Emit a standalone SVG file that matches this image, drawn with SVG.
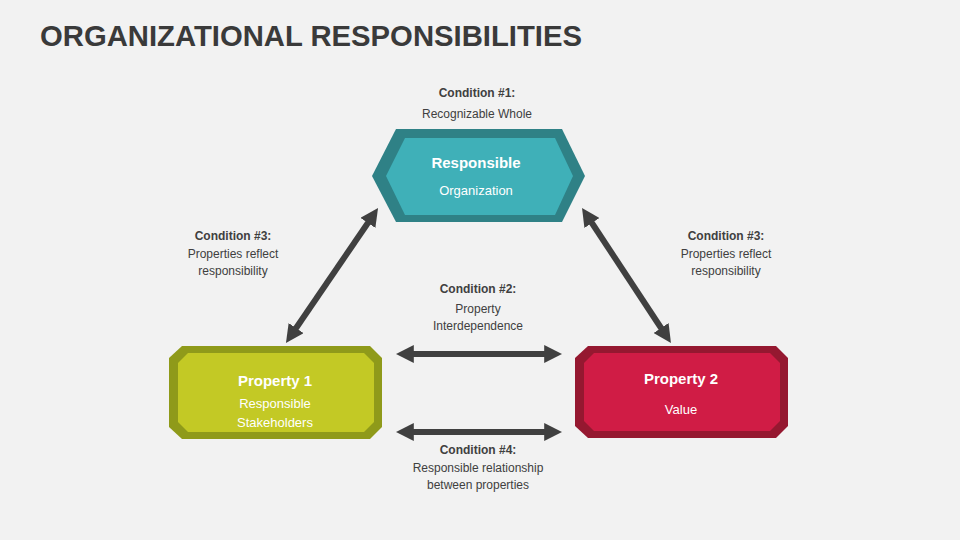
<svg xmlns="http://www.w3.org/2000/svg" width="960" height="540" viewBox="0 0 960 540">
<defs>
<style>
.t{font-family:"Liberation Sans",Arial,sans-serif;fill:#404040;text-anchor:middle;font-size:12px}
.b{font-weight:bold}
.w{font-family:"Liberation Sans",Arial,sans-serif;fill:#fff;text-anchor:middle}
.a{stroke:#404040;stroke-width:6;fill:none;marker-start:url(#h);marker-end:url(#h)}
</style>
<marker id="h" viewBox="0 0 10 10" refX="6" refY="5" markerWidth="3" markerHeight="3" orient="auto-start-reverse"><path d="M0,0L10,5L0,10z" fill="#404040"/></marker>
</defs>
<rect width="960" height="540" fill="#f2f2f2"/>
<text x="40" y="46" font-family="Liberation Sans,Arial,sans-serif" font-weight="bold" font-size="30" fill="#3a3a3a" textLength="542" lengthAdjust="spacingAndGlyphs">ORGANIZATIONAL RESPONSIBILITIES</text>
<g id="connectors">
<line class="a" x1="374" y1="214" x2="290" y2="337"/>
<line class="a" x1="586" y1="214" x2="667" y2="337"/>
<line class="a" x1="403" y1="354" x2="555" y2="354"/>
<line class="a" x1="403" y1="432" x2="555" y2="432"/>
</g>
<g id="responsible">
<polygon points="396,129 562,129 585,176 562,222 396,222 372,176" fill="#2f8186"/>
<polygon points="405,138 555,138 573,176 555,215 405,215 386,176" fill="#3fb0b8"/>
<text class="w b" x="476" y="168" font-size="15">Responsible</text>
<text class="w" x="476" y="195" font-size="13">Organization</text>
</g>
<g id="property1">
<polygon points="182,346 370,346 382,358 382,427 370,439 182,439 169,427 169,358" fill="#8f9a1a"/>
<polygon points="188,353 364,353 374,363 374,422 364,432 188,432 178,422 178,363" fill="#c3c925"/>
<text class="w b" x="275" y="386" font-size="15">Property 1</text>
<text class="w" x="275" y="408" font-size="13">Responsible</text>
<text class="w" x="275" y="427" font-size="13">Stakeholders</text>
</g>
<g id="property2">
<polygon points="588,346 776,346 788,358 788,426 776,438 588,438 575,426 575,358" fill="#951830"/>
<polygon points="594,353 770,353 780,363 780,421 770,431 594,431 584,421 584,363" fill="#d01c45"/>
<text class="w b" x="681" y="384" font-size="15">Property 2</text>
<text class="w" x="681" y="414" font-size="13">Value</text>
</g>
<g id="labels">
<text class="t b" x="477" y="97">Condition #1:</text>
<text class="t" x="477" y="118">Recognizable Whole</text>
<text class="t b" x="233" y="240">Condition #3:</text>
<text class="t" x="233" y="258">Properties reflect</text>
<text class="t" x="233" y="275">responsibility</text>
<text class="t b" x="726" y="240">Condition #3:</text>
<text class="t" x="726" y="258">Properties reflect</text>
<text class="t" x="726" y="275">responsibility</text>
<text class="t b" x="478" y="293">Condition #2:</text>
<text class="t" x="478" y="313">Property</text>
<text class="t" x="478" y="330">Interdependence</text>
<text class="t b" x="478" y="454">Condition #4:</text>
<text class="t" x="478" y="472">Responsible relationship</text>
<text class="t" x="478" y="489">between properties</text>
</g>
</svg>
